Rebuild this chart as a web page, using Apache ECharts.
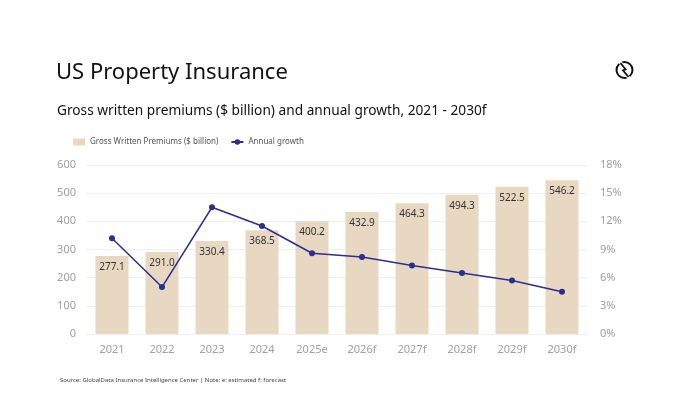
<!DOCTYPE html>
<html><head><meta charset="utf-8">
<script src="https://cdn.jsdelivr.net/npm/echarts@6/dist/echarts.min.js"></script>
<style>html,body{margin:0;padding:0;background:#fff}#c{width:684px;height:418px}</style>
</head><body><div id="c"></div>
<script>
var categories = ['2021','2022','2023','2024','2025e','2026f','2027f','2028f','2029f','2030f'];
var premiums = [277.1, 291.0, 330.4, 368.5, 400.2, 432.9, 464.3, 494.3, 522.5, 546.2];
var growth = [10.2, 5.0, 13.5, 11.5, 8.6, 8.2, 7.3, 6.5, 5.7, 4.5];
var leftTicks = {min:0, max:600, interval:100};
var rightTicks = {min:0, max:18, interval:3};

var FONT = '"Noto Sans", sans-serif';
var chart = echarts.init(document.getElementById('c'));
chart.setOption({
  backgroundColor:'#fff',
  textStyle:{fontFamily:FONT},
  title:[
    {text:'US Property Insurance', left:51, top:57, textStyle:{fontFamily:FONT, fontSize:22, fontWeight:'normal', color:'#111'}},
    {text:'Gross written premiums ($ billion) and annual growth, 2021 - 2030f', left:52, top:99, textStyle:{fontFamily:FONT, fontSize:13.7, fontWeight:'normal', color:'#111'}},
    {text:'Source: GlobalData Insurance Intelligence Center | Note: e: estimated f: forecast', left:55, top:372, textStyle:{fontFamily:FONT, fontSize:6, fontWeight:'normal', color:'#444'}}
  ],
  legend:{left:68, top:133, itemWidth:12, itemHeight:7, itemGap:12,
    textStyle:{fontFamily:FONT, fontSize:8, color:'#555'},
    data:[{name:'Gross Written Premiums ($ billion)', icon:'rect'},{name:'Annual growth'}]},
  grid:{left:87, right:97, top:165, bottom:84},
  xAxis:{type:'category', data:categories,
    axisLine:{show:true, lineStyle:{color:'#eee'}}, axisTick:{show:false},
    axisLabel:{color:'#a0a0a0', fontSize:11, margin:10, fontFamily:FONT}},
  yAxis:[
    {type:'value', min:leftTicks.min, max:leftTicks.max, interval:leftTicks.interval,
     axisLabel:{color:'#a0a0a0', fontSize:11, margin:11, fontFamily:FONT},
     splitLine:{lineStyle:{color:'#eeeeee'}}, axisLine:{show:false}},
    {type:'value', min:rightTicks.min, max:rightTicks.max, interval:rightTicks.interval,
     axisLabel:{color:'#a0a0a0', fontSize:11, margin:13, formatter:'{value}%', fontFamily:FONT},
     splitLine:{show:false}, axisLine:{show:false}}
  ],
  series:[
    {name:'Gross Written Premiums ($ billion)', type:'bar', data:premiums, barWidth:'66%',
     itemStyle:{color:'#e8d8c2'},
     label:{show:true, position:'insideTop', distance:6, color:'#333', fontSize:10, fontFamily:FONT,
       formatter:function(p){return p.value.toFixed(1);}}},
    {name:'Annual growth', type:'line', yAxisIndex:1, data:growth,
     symbol:'circle', symbolSize:6, lineStyle:{color:'#2b2f8f', width:1.5},
     itemStyle:{color:'#2b2f8f'}, z:5}
  ],
  graphic:[
    {type:'circle', shape:{cx:624.5, cy:70, r:8}, style:{fill:'none', stroke:'#111', lineWidth:2}},
    {type:'polyline', shape:{points:[[619.5,61.5],[626,69.5],[622.5,70.5],[629.5,78.5]]}, style:{fill:'none', stroke:'#fff', lineWidth:3.2}},
    {type:'polyline', shape:{points:[[620.5,63],[625.5,69.3],[623,70.3],[628.5,77]]}, style:{fill:'none', stroke:'#111', lineWidth:1.8}}
  ]
});
</script></body></html>
